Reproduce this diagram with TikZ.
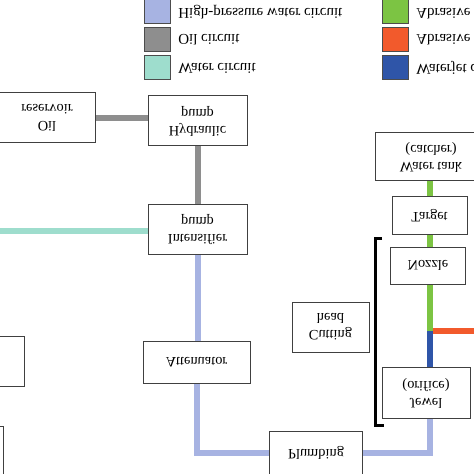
\documentclass[tikz,border=0pt]{standalone}
\usepackage{fontspec}
\setmainfont{Liberation Serif}
\usetikzlibrary{positioning,backgrounds}
\definecolor{hpblue}{HTML}{A7B3E2}
\definecolor{oilgray}{HTML}{8E8E8E}
\definecolor{mint}{HTML}{9EDDCD}
\definecolor{abrgreen}{HTML}{7CC443}
\definecolor{abrred}{HTML}{F25A2C}
\definecolor{jetblue}{HTML}{2F55A8}
\tikzset{
  part/.style={draw=black!75,line width=0.8pt,fill=white,align=center,inner sep=2pt,
    font=\fontsize{11.5}{13.6}\selectfont},
  pipe/.style={line width=4.8pt},
  swatch/.style={draw=black!70,line width=0.8pt,minimum width=20.8pt,minimum height=19.2pt,inner sep=0pt},
  legtext/.style={anchor=west,inner sep=0pt,font=\fontsize{12}{14}\selectfont}
}
\begin{document}
\begin{tikzpicture}[x=0.8pt,y=0.8pt,yscale=-1,transform shape]
\useasboundingbox (0,0) rectangle (474,474);
\clip (0,0) rectangle (474,474);
% legend
\node[swatch,fill=hpblue] (lhp) at (157,12) {};
\node[swatch,fill=oilgray] (loil) at (157,40) {};
\node[swatch,fill=mint] (lwat) at (157,68) {};
\node[legtext] at (178,12) {High-pressure water circuit};
\node[legtext] at (178,40) {Oil circuit};
\node[legtext] at (178,68) {Water circuit};
\node[swatch,fill=abrgreen] (lawj) at (395,12) {};
\node[swatch,fill=abrred] (labr) at (395,40) {};
\node[swatch,fill=jetblue] (ljet) at (395,68) {};
\node[legtext] at (416,12) {Abrasive waterjet circuit};
\node[legtext] at (416,40) {Abrasive circuit};
\node[legtext] at (416,68) {Waterjet circuit};
% components (picture is flipped: north anchors lie at the bottom)
\node[part,minimum width=76.8pt,minimum height=40pt] (res) at (47,118) {Oil\\reservoir};
\node[part,minimum width=79.2pt,minimum height=40pt] (hyd) at (197.5,121) {Hydraulic\\pump};
\node[part,minimum width=79.2pt,minimum height=40pt] (int) at (197.5,229.5) {Intensifier\\pump};
\node[part,minimum width=85.6pt,minimum height=33.6pt] (att) at (196.5,362) {Attenuator};
\node[part,minimum width=74.4pt,minimum height=35.2pt] (plm) at (316,453) {Plumbing};
\node[part,minimum width=70.4pt,minimum height=40.8pt] (jwl) at (426,393) {Jewel\\(orifice)};
\node[part,minimum width=60pt,minimum height=29.6pt] (noz) at (428,265.5) {Nozzle};
\node[part,minimum width=60pt,minimum height=30.4pt] (tgt) at (429.5,216) {Target};
\node[part,minimum width=89.6pt,minimum height=38.4pt] (tnk) at (431,157) {Water tank\\(catcher)};
\node[part,minimum width=61.6pt,minimum height=40pt] (cut) at (330.5,327) {Cutting\\head};
\node[part,minimum width=75.2pt,minimum height=40pt] (boxa) at (-23,361) {};
\node[part,minimum width=75.2pt,minimum height=40pt] (boxb) at (-43,451) {};
% circuits
\coordinate (wsrc) at (-5,231);
\coordinate (axis) at (429.5,0);
\coordinate (mix) at (429.5,331);
\coordinate (abrsrc) at (480,331);
\begin{pgfonlayer}{background}
\draw[pipe,oilgray] (res.east) -- (res.east -| hyd.west);
\draw[pipe,oilgray] (hyd.north) -- (int.south);
\draw[pipe,mint] (wsrc) -- (wsrc -| int.west);
\draw[pipe,hpblue] (int.north) -- (int.north |- att.south);
\draw[pipe,hpblue] (att.north) |- (plm.west);
\draw[pipe,hpblue] (plm.east) -| (axis |- jwl.north);
\draw[pipe,abrred] (mix) -- (abrsrc);
\draw[pipe,jetblue] (axis |- jwl.south) -- (mix);
\draw[pipe,abrgreen] (mix) -- (axis |- noz.north);
\draw[pipe,abrgreen] (axis |- noz.south) -- (axis |- tgt.north);
\draw[pipe,abrgreen] (axis |- tgt.south) -- (axis |- tnk.north);
\end{pgfonlayer}
% cutting head bracket
\draw[line width=2.4pt] (382,239) -- (375,239) -- (375,425) -- (384,425);
\end{tikzpicture}
\end{document}
